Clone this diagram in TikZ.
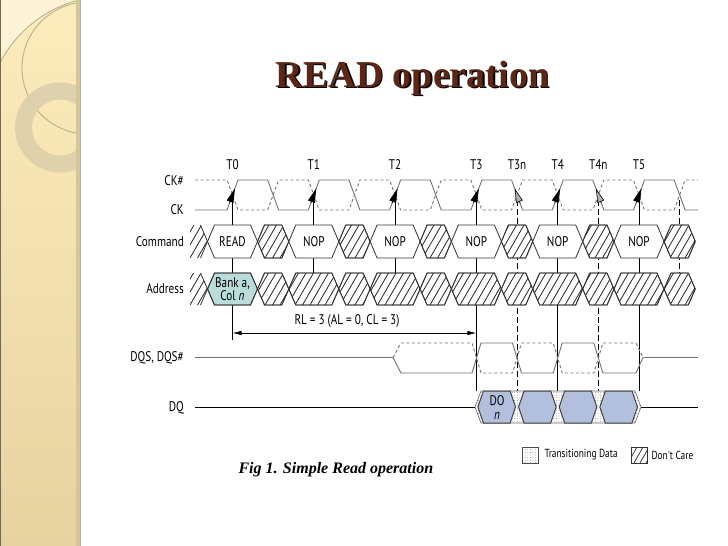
\documentclass[tikz,border=0pt]{standalone}
\usepackage{fontspec}
\setmainfont{Liberation Serif}
\newfontfamily\sigfont[FakeStretch=0.8]{PT Sans}
\usetikzlibrary{arrows.meta,patterns.meta}

\definecolor{bandtop}{RGB}{253,236,188}
\definecolor{bandbot}{RGB}{231,211,160}
\definecolor{bandedge}{RGB}{214,198,152}
\definecolor{arcline}{RGB}{184,168,130}
\definecolor{ringcol}{RGB}{220,207,172}
\definecolor{titlebrown}{RGB}{94,38,20}
\definecolor{bankfill}{RGB}{186,221,219}
\definecolor{dqfill}{RGB}{178,191,221}
\definecolor{wavegray}{RGB}{115,115,115}

\tikzset{
  siglabel/.style={anchor=east, inner sep=0pt},
  wave/.style={wavegray, line width=0.9pt},
  wavedash/.style={wavegray, line width=0.9pt, dash pattern=on 3pt off 2.5pt},
  cell/.style={draw=black!80, line width=0.8pt, fill=white},
  outline/.style={draw=black!80, line width=0.8pt},
  hatchline/.style={black!85, line width=0.8pt},
  dotfill/.style={preaction={fill=white},
    pattern={Dots[radius=0.45pt,distance=2.6pt]}, pattern color=black!50},
  edgeup/.style={-{Triangle[length=14pt,width=7pt]}, black, line width=0.6pt},
  edgedown/.style={-{Triangle[length=14pt,width=7pt,fill=black!30]}, black, line width=0.6pt},
  tline/.style={black, line width=0.7pt},
  tdash/.style={black, line width=0.7pt, dash pattern=on 6pt off 3pt}
}

% hexagon cell: style, x1, x2, top, bottom
\newcommand{\hexcell}[5]{\path[#1] (#2,{(#4+#5)/2}) -- ({#2+7},#4) -- ({#3-7},#4) -- (#3,{(#4+#5)/2}) -- ({#3-7},#5) -- ({#2+7},#5) -- cycle;}

\begin{document}
\begin{tikzpicture}[x=1pt,y=-1pt,font=\sigfont\fontsize{14}{15}\selectfont]
\useasboundingbox (0,0) rectangle (728,546);
\fill[white] (0,0) rectangle (728,546);

% side band
\shade[top color=bandtop,bottom color=bandbot] (0,0) rectangle (80,546);
\fill[white,opacity=0.4] (0,0) -- plot[domain=207.4:256,samples=30] ({110+124*cos(\x)},{120+124*sin(\x)}) -- cycle;
\draw[arcline,line width=0.8pt] plot[domain=207.4:256,samples=30] ({110+124*cos(\x)},{120+124*sin(\x)});
\begin{scope}
  \clip (0,0) rectangle (77,546);
  \draw[arcline,line width=0.8pt] (88,68) circle (66);
  \fill[ringcol,opacity=0.9,even odd rule] (60,127.5) circle (45) (60,127.5) circle (28);
\end{scope}
\fill[bandedge] (76,0) rectangle (80,546);
\draw[black!30] (80.3,0) -- (80.3,546);
\draw[black!50!bandbot,line width=1pt] (0.5,0) -- (0.5,546);

% title and caption
\node[anchor=base,font=\fontsize{38}{40}\selectfont\bfseries,text=black] at (414,88.5) {READ operation};
\node[anchor=base,font=\fontsize{38}{40}\selectfont\bfseries,text=titlebrown] (title) at (412.5,87) {READ operation};
\node[anchor=base west,font=\fontsize{16}{18}\selectfont\bfseries\itshape] (caption) at (235,473) {Fig 1. Simple Read operation};

% clock edge markers
\foreach \i/\yb in {0/340,1/305,2/305,3/391,4/391,5/391}
  \draw[tline] ({232.5+81.3*\i},195) -- ({232.5+81.3*\i},\yb);
\foreach \i/\yb in {3/391,4/391,5/305}
  \draw[tdash] ({273.15+81.3*\i},200) -- ({273.15+81.3*\i},\yb);

% signal names
\node[siglabel] (lckb) at (184,181) {CK\#};
\node[siglabel] (lck) at (184,210) {CK};
\node[siglabel] (lcmd) at (184,241.5) {Command};
\node[siglabel] (laddr) at (184,289) {Address};
\node[siglabel] (ldqs) at (184,358) {DQS, DQS\#};
\node[siglabel] (ldq) at (184,408) {DQ};

\foreach \i in {0,...,5}
  \node (t\i) at ({232.5+81.3*\i},165) {T\i};
\node (t3n) at (517.05,165) {T3n};
\node (t4n) at (598.35,165) {T4n};

% command and address
\foreach \i in {0,...,5}{
  \pgfmathsetmacro\xa{232.5+81.3*\i-25}
  \pgfmathsetmacro\xb{232.5+81.3*\i+25}
  \pgfmathsetmacro\xc{232.5+81.3*\i+56.3}
  \hexcell{cell}{\xa}{\xb}{225}{258}
  \hexcell{cell}{\xb}{\xc}{225}{258}
  \ifnum\i=0 \hexcell{cell,fill=bankfill}{\xa}{\xb}{273}{305}\else \hexcell{cell}{\xa}{\xb}{273}{305}\fi
  \hexcell{cell}{\xb}{\xc}{273}{305}
}
\begin{scope}
  \clip (190,225) -- (200.5,225) -- (207.5,241.5) -- (200.5,258) -- (190,258) -- cycle
    \foreach \i in {0,...,5}{ ({257.5+81.3*\i},241.5) -- ({264.5+81.3*\i},225) -- ({281.8+81.3*\i},225) -- ({288.8+81.3*\i},241.5) -- ({281.8+81.3*\i},258) -- ({264.5+81.3*\i},258) -- cycle };
  \foreach \h in {160,167.5,...,710}
    \draw[hatchline] (\h,258) -- ({\h+19},225);
\end{scope}
\begin{scope}
  \clip (190,273) -- (200.5,273) -- (207.5,289) -- (200.5,305) -- (190,305) -- cycle
    \foreach \i in {0,...,5}{ ({257.5+81.3*\i},289) -- ({264.5+81.3*\i},273) -- ({281.8+81.3*\i},273) -- ({288.8+81.3*\i},289) -- ({281.8+81.3*\i},305) -- ({264.5+81.3*\i},305) -- cycle }
    \foreach \i in {1,...,5}{ ({207.5+81.3*\i},289) -- ({214.5+81.3*\i},273) -- ({250.5+81.3*\i},273) -- ({257.5+81.3*\i},289) -- ({250.5+81.3*\i},305) -- ({214.5+81.3*\i},305) -- cycle };
  \foreach \h in {160,167.5,...,710}
    \draw[hatchline] (\h,305) -- ({\h+18.5},273);
\end{scope}
\foreach \i in {0,...,5}{
  \pgfmathsetmacro\xa{232.5+81.3*\i-25}
  \pgfmathsetmacro\xb{232.5+81.3*\i+25}
  \pgfmathsetmacro\xc{232.5+81.3*\i+56.3}
  \hexcell{outline}{\xb}{\xc}{225}{258}
  \hexcell{outline}{\xa}{\xb}{273}{305}
  \hexcell{outline}{\xb}{\xc}{273}{305}
}
\foreach \ya/\yb in {225/258,273/305}
  \draw[outline] (200.5,\ya) -- (207.5,{(\ya+\yb)/2}) -- (200.5,\yb);
\node (cmd0) at (232.5,241.5) {READ};
\foreach \i in {1,...,5}
  \node (cmd\i) at ({232.5+81.3*\i},241.5) {NOP};
\node[align=center,inner sep=0pt,font=\sigfont\fontsize{14}{13}\selectfont] (addr0) at (232.5,289) {Bank a,\\Col \textit{n}};

% CK and CK#
\draw[wave] (195,210) \foreach \i in {0,...,5}{ -- ({227+81.3*\i},210) -- ({238+81.3*\i},180) -- ({267.65+81.3*\i},180) -- ({278.65+81.3*\i},210)} -- (698,210);
\draw[wavedash] (195,180) \foreach \i in {0,...,5}{ -- ({227+81.3*\i},180) -- ({238+81.3*\i},210) -- ({267.65+81.3*\i},210) -- ({278.65+81.3*\i},180)} -- (698,180);
\foreach \i in {0,...,5}
  \draw[edgeup] ({229.5+81.3*\i},203.2) -- ({234.88+81.3*\i},188.5);
\foreach \x in {517.05,598.35}
  \draw[edgedown] ({\x+3},203.2) -- ({\x-2.38},188.5);

% read latency
\draw[{Latex[length=9pt,width=4.5pt]}-{Latex[length=9pt,width=4.5pt]},line width=0.7pt] (232.5,333) -- (476.4,333);
\node (rl) at (347,321) {RL = 3 (AL = 0, CL = 3)};

% DQS and DQS#
\draw[wave] (195,357.5) -- (393,357.5) -- (401,373) -- (472,373) -- (481,343) -- (512.5,343) -- (521.5,373) -- (553.2,373) -- (562.2,343) -- (593.85,343) -- (602.85,373) -- (636,373) -- (643,357.5) -- (698,357.5);
\draw[wavedash] (393,357.5) -- (401,343) -- (472,343) -- (481,373) -- (512.5,373) -- (521.5,343) -- (553.2,343) -- (562.2,373) -- (593.85,373) -- (602.85,343) -- (636,343) -- (643,357.5);

% DQ
\draw[black,line width=1pt] (195,407) -- (475,407);
\draw[black,line width=1pt] (641,407) -- (698,407);
\path[dotfill,draw=black!60,line width=0.6pt] (475,407) -- (481,391) -- (635,391) -- (641,407) -- (635,423) -- (481,423) -- cycle;
\foreach \xa/\xb in {476.4/517.05,517.05/557.7,557.7/598.35,598.35/639}
  \path[draw=black!75,line width=1pt,fill=dqfill] ({\xa+1.5},407) -- ({\xa+7},391) -- ({\xb-7},391) -- ({\xb-1.5},407) -- ({\xb-7},423) -- ({\xa+7},423) -- cycle;
\node[align=center,inner sep=0pt,font=\sigfont\fontsize{14}{14}\selectfont] (dq0) at (497,408) {DO\\\textit{n}};

% legend
\path[dotfill,draw=black!70,line width=0.6pt] (522,447) rectangle (538,463);
\node[anchor=west,font=\sigfont\fontsize{11.7}{13}\selectfont] (ltrans) at (541,455) {Transitioning Data};
\begin{scope}
  \clip (631,447) rectangle (647,463);
  \foreach \h in {616,622,...,648}
    \draw[hatchline,line width=0.7pt] (\h,463) -- ({\h+9},447);
\end{scope}
\draw[outline,line width=0.6pt] (631,447) rectangle (647,463);
\node[anchor=west,font=\sigfont\fontsize{11.7}{13}\selectfont] (lcare) at (648,455) {Don't Care};
\end{tikzpicture}
\end{document}
